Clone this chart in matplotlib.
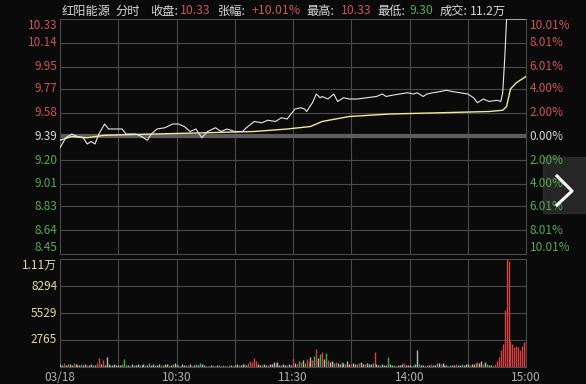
import matplotlib
matplotlib.use("Agg")
import matplotlib.pyplot as plt
import matplotlib.transforms as mtransforms
from matplotlib.patches import Rectangle
from matplotlib.lines import Line2D

plt.rcParams["font.family"] = ["Noto Sans CJK SC", "DejaVu Sans"]

# --- data ---
PREV_CLOSE = 9.39

price_min = [0, 3, 6, 9, 12, 14, 16, 18, 20, 23, 25, 28, 32, 34, 39, 42, 45, 47, 50,
             54, 58, 61, 64, 67, 70, 73, 76, 80, 83, 86, 90, 94, 96, 100, 104, 107,
             111, 114, 117, 121, 124, 126, 127, 130, 132, 134, 135, 138, 141, 143,
             146, 149, 153, 158, 163, 166, 168, 171, 175, 179, 182, 184, 187, 189,
             192, 196, 199, 202, 206, 210, 213, 215, 218, 221, 225, 227, 228, 229,
             230, 240]
price_val = [9.30, 9.38, 9.41, 9.39, 9.38, 9.33, 9.35, 9.33, 9.41, 9.49, 9.45, 9.45,
             9.45, 9.41, 9.41, 9.39, 9.36, 9.41, 9.45, 9.46, 9.49, 9.49, 9.47, 9.43,
             9.45, 9.38, 9.43, 9.46, 9.43, 9.45, 9.43, 9.43, 9.46, 9.51, 9.50, 9.52,
             9.51, 9.54, 9.53, 9.61, 9.62, 9.61, 9.59, 9.66, 9.73, 9.70, 9.71, 9.69,
             9.73, 9.67, 9.70, 9.69, 9.69, 9.70, 9.71, 9.73, 9.71, 9.72, 9.73, 9.74,
             9.73, 9.74, 9.71, 9.73, 9.74, 9.75, 9.76, 9.75, 9.74, 9.73, 9.70, 9.66,
             9.69, 9.67, 9.68, 9.67, 9.74, 10.00, 10.33, 10.33]

avg_min = [0, 6, 14, 23, 49, 75, 100, 117, 129, 135, 149, 170, 196, 221, 228, 230,
           232, 235, 240]
avg_val = [9.36, 9.39, 9.38, 9.40, 9.41, 9.42, 9.43, 9.45, 9.47, 9.51, 9.55, 9.57,
           9.58, 9.59, 9.60, 9.63, 9.77, 9.82, 9.87]

volume = [
    300, 250, 400, 200, 350, 300, 250, 400, 300, 200,
    250, 300, 200, 350, 250, 200, 300, 250, 200, 450,
    900, 300, 700, 250, 1000, 300, 200, 250, 300, 200,
    250, 200, 300, 800, 250, 200, 150, 300, 250, 200,
    300, 250, 200, 350, 200, 250, 400, 200, 300, 250,
    200, 300, 250, 200, 300, 350, 200, 250, 300, 400,
    250, 200, 150, 300, 200, 250, 200, 300, 150, 200,
    300, 250, 450, 350, 200, 150, 100, 150, 200, 250,
    150, 200, 250, 150, 200, 150, 100, 200, 250, 150,
    200, 300, 250, 200, 350, 300, 250, 400, 650, 500,
    900, 600, 300, 250, 200, 300, 250, 200, 300, 350,
    550, 450, 500, 250, 200, 300, 250, 200, 300, 250,
    800, 450, 300, 600, 500, 700, 400, 800, 550, 1000,
    700, 1100, 1800, 900, 1300, 1500, 800, 1400, 700, 500,
    600, 400, 500, 450, 350, 500, 400, 300, 650, 350,
    300, 450, 350, 300, 400, 500, 300, 350, 400, 300,
    350, 400, 1500, 300, 250, 200, 300, 250, 200, 1000,
    300, 250, 200, 150, 200, 250, 300, 400, 200, 250,
    200, 150, 250, 300, 1700, 350, 250, 200, 150, 200,
    250, 300, 250, 200, 450, 400, 350, 450, 250, 200,
    150, 200, 250, 200, 300, 250, 200, 300, 250, 350,
    300, 250, 350, 300, 400, 550, 450, 600, 350, 500,
    300, 250, 200, 150, 350, 600, 1000, 1700, 2400, 5800,
    11059, 10900, 2700, 2400, 2000, 2100, 2000, 1700, 2200, 2600, 2600,
]
# u = up (red), d = down (green), e = unchanged
vol_dir = ("eeuedeeuee" "edeeueedeu" "ueueeedeee" "eedddeeede" "edeeuedeed"
           "eeudeeuede" "edeeedueee" "dedeeeedeu" "eededeeuee" "eeueedeuuu"
           "uueedeeuee" "eueedeeuee" "ueudueduue" "udueduedue" "edueedeuee"
           "ueedueeuee" "edueedeeed" "eedeeeeuee" "eedeedeeed" "eueedeueee"
           "edeeueedee" "eueedueeue" "deeeuuuuuu" "uuuuuuuuuuu")

price_ticks = [8.45, 8.64, 8.83, 9.01, 9.20, 9.39, 9.58, 9.77, 9.95, 10.14, 10.33]
price_labels = ["8.45", "8.64", "8.83", "9.01", "9.20", "9.39", "9.58", "9.77",
                "9.95", "10.14", "10.33"]
pct_labels = ["10.01%", "8.01%", "6.01%", "4.00%", "2.00%", "0.00%", "2.00%",
              "4.00%", "6.01%", "8.01%", "10.01%"]
vol_ticks = [2765, 5529, 8294, 11059]
vol_labels = ["2765", "5529", "8294", "1.11万"]
time_ticks = [0, 60, 120, 180, 240]
time_labels = ["03/18", "10:30", "11:30", "14:00", "15:00"]

# --- style ---
BG = "#0a0a0a"
GRID = "#4a4a4a"
RED = "#cc5555"
GREEN = "#55aa55"
WHITE = "#d8d8d8"
YELLOW_TXT = "#e0dca8"
dir_color = {"u": "#d84040", "d": "#40b040", "e": "#b8b8b8"}

W, H = 586, 384
fig = plt.figure(figsize=(W / 100, H / 100), dpi=100, facecolor=BG)


def fx(px):
    return px / W


def fy(py):
    return 1 - py / H


ax1 = fig.add_axes([fx(60), fy(254), fx(526) - fx(60), fy(19) - fy(254)], facecolor=BG)
ax2 = fig.add_axes([fx(60), fy(367), fx(526) - fx(60), fy(259) - fy(367)], facecolor=BG)

for ax in (ax1, ax2):
    ax.set_xlim(0, 240)
    ax.set_xticks([])
    ax.set_yticks([])
    for s in ax.spines.values():
        s.set_color(GRID)
        s.set_linewidth(0.8)
    for t in range(30, 240, 30):
        ax.axvline(t, color=GRID, lw=0.8, zorder=1)

# price panel
ax1.set_ylim(price_ticks[0], price_ticks[-1])
for p in price_ticks[1:-1]:
    ax1.axhline(p, color=GRID, lw=0.8, zorder=1)
ax1.axhline(PREV_CLOSE, color="#5c5c5c", lw=3, zorder=1)
ax1.plot(avg_min, avg_val, color="#ecec9c", lw=1.0, zorder=3)
ax1.plot(price_min, price_val, color="#e8e8e8", lw=0.8, zorder=4)

trans1 = mtransforms.blended_transform_factory(ax1.transAxes, ax1.transData)
n = len(price_ticks)
for i, (p, lab, pct) in enumerate(zip(price_ticks, price_labels, pct_labels[::-1])):
    if p > PREV_CLOSE:
        c = RED
    elif p < PREV_CLOSE:
        c = GREEN
    else:
        c = WHITE
    va = "top" if i == n - 1 else ("bottom" if i == 0 else "center")
    ax1.text(-0.006, p, lab, transform=trans1, ha="right", va=va, color=c, fontsize=8.5)
    ax1.text(1.008, p, pct, transform=trans1, ha="left", va=va, color=c, fontsize=8.5)

# volume panel
ax2.set_ylim(0, vol_ticks[-1])
for v in vol_ticks[:-1]:
    ax2.axhline(v, color=GRID, lw=0.8, zorder=1)
minutes = list(range(len(volume)))
ax2.vlines(minutes, 0, volume, colors=[dir_color[d] for d in vol_dir], lw=1.0, zorder=3)
trans2 = mtransforms.blended_transform_factory(ax2.transAxes, ax2.transData)
for v, lab in zip(vol_ticks, vol_labels):
    va = "top" if v == vol_ticks[-1] else "center"
    ax2.text(-0.006, v, lab, transform=trans2, ha="right", va=va, color=YELLOW_TXT, fontsize=8.5)

transx = mtransforms.blended_transform_factory(ax2.transData, ax2.transAxes)
for t, lab in zip(time_ticks, time_labels):
    ax2.text(t, -0.1, lab, transform=transx, ha="center", va="center",
             color="#b0b0b0", fontsize=8.5)

# header line
header = [
    (62, "红阳能源", WHITE), (115, "分时", WHITE), (150, "收盘:", WHITE), (180, "10.33", RED),
    (218, "张幅:", WHITE), (251, "+10.01%", RED), (306, "最高:", WHITE), (341, "10.33", RED),
    (377, "最低:", WHITE), (410, "9.30", GREEN), (440, "成交:", WHITE), (470, "11.2万", WHITE),
]
for x, txt, c in header:
    fig.text(fx(x), fy(11), txt, ha="left", va="center", color=c, fontsize=8.8)

# side arrow button (translucent, labels show through)
fig.patches.append(Rectangle((fx(543), fy(213)), fx(586) - fx(543), fy(157) - fy(213),
                             transform=fig.transFigure, color="#3a3a3a", alpha=0.6, zorder=-1))
fig.lines.append(Line2D([fx(557), fx(572), fx(557)], [fy(176), fy(191), fy(205)],
                        transform=fig.transFigure, color="white", lw=2.2, zorder=10))

fig.savefig("out.png", dpi=100, facecolor=BG)
